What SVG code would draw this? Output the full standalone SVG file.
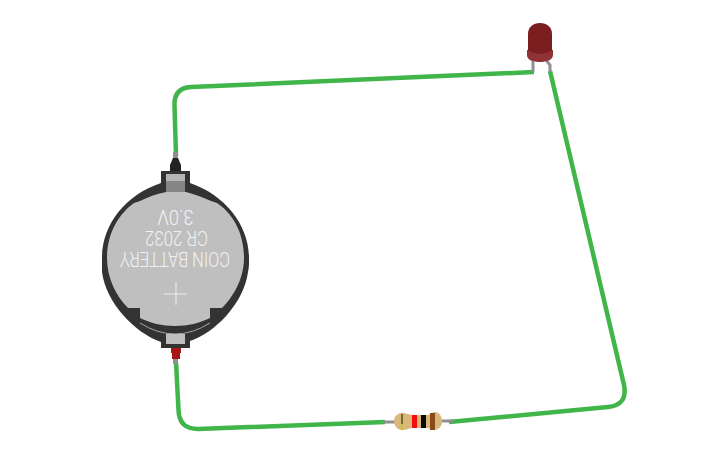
<svg xmlns="http://www.w3.org/2000/svg" width="725" height="453" viewBox="0 0 725 453">
<style>
.wire{fill:none;stroke:#3fb54a;stroke-width:4.500;stroke-linejoin:round}
.lead{fill:none;stroke:#8f8f8f;stroke-width:3}
.lbl{font-family:"Roboto","Liberation Sans",sans-serif;font-size:20px;font-weight:300;fill:#f2f2f2;text-anchor:middle}
</style>
<rect width="725" height="453" fill="#fff"/>
<g id="connectors">
<path class="wire" d="M176 156L174.500 105Q174 88 191 87L534 72"/>
<path class="wire" d="M550 71L624 385Q628 405 608 407L449 422"/>
<path class="wire" d="M176 362L178.500 410Q179 429 198 429L385 422"/>
</g>
<g id="battery">
<path d="M173 152H178V160H173Z" fill="#8f8f8f"/>
<path d="M173 158H178L181 165V172H170V165Z" fill="#222"/>
<path d="M173 356H178V364H173Z" fill="#8f8f8f"/>
<path d="M171 347H181V353H180V359H172V353H171Z" fill="#a81717"/>
<path d="M102 258C102 225 125 195 161 183V171H190V183C225 195 249 225 249 258C249 264 249 268 248 272C244 303 215 333 190 341V348H161V342C135 333 106 303 102 272C102 268 102 264 102 258Z" fill="#333"/>
<path d="M107 258C107 232 120 213 134 203L140 201C148 197 156 194 166 192H186C194 194 202 197 211 201L217 203C232 213 244 232 244 258C244 278 234 296 222 308H210V318C200 323 188 326 175 326C162 326 150 323 140 318V308H128C116 296 107 278 107 258Z" fill="#bfbfbf"/>
<rect x="166" y="174" width="19" height="18" fill="#b5b5b5"/>
<rect x="166" y="181" width="19" height="11" fill="#858585"/>
<path d="M140 323Q175 345 210 323" fill="none" stroke="#a8a8a8" stroke-width="1"/>
<rect x="166" y="334" width="19" height="10" fill="#bfbfbf"/>
<path d="M176 282V305M164 294H187" stroke="#f0f0f0" stroke-width="1" fill="none"/>
<g transform="rotate(180 175 238)">
<text class="lbl" x="175" y="224" textLength="110" lengthAdjust="spacingAndGlyphs">COIN BATTERY</text>
<text class="lbl" x="173.500" y="245" textLength="63" lengthAdjust="spacingAndGlyphs">CR 2032</text>
<text class="lbl" x="174.500" y="266" textLength="36" lengthAdjust="spacingAndGlyphs">3.0V</text>
</g>
</g>
<g id="led">
<path class="lead" d="M533 56V72"/>
<path class="lead" d="M546 60L550 65V72"/>
<path d="M527 50H553V55C553 60 546 62 540 62C533 62 527 60 527 55Z" fill="#8f3436"/>
<path d="M528 50V34C528 27 533 23 540 23C547 23 552 27 552 34V50C547 55 533 55 528 50Z" fill="#7c1d1f"/>
</g>
<g id="resistor">
<path d="M383 422H395M440 421H453" stroke="#8f8f8f" stroke-width="3" fill="none"/>
<path d="M394 421C394 416 399 412 404 413L412 415H428L434 412C440 412 442 417 442 421C442 426 439 430 434 430L428 428H412L404 430C398 431 394 426 394 421Z" fill="#d9b679"/>
<rect x="401" y="414" width="2" height="11" fill="#7a6a2a"/>
<rect x="401" y="424" width="2" height="6" fill="#c8c23a"/>
<rect x="412" y="415" width="5" height="13" fill="#f50d0d"/>
<rect x="421" y="415" width="5" height="13" fill="#0a0a0a"/>
<rect x="430" y="413" width="5" height="17" fill="#8a4b1c"/>
</g>
</svg>
